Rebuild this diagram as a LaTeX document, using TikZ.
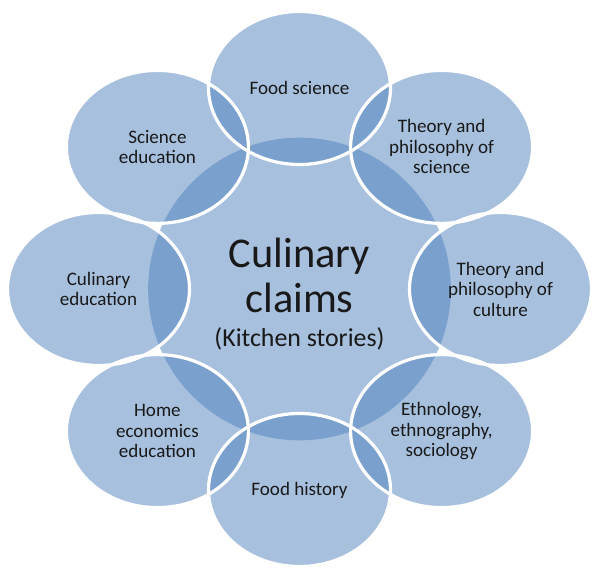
\documentclass[tikz,border=0pt]{standalone}
\usepackage{fontspec}
\setmainfont{Carlito}
\usetikzlibrary{shapes.geometric}
\definecolor{claimblue}{RGB}{79,129,189}
\definecolor{inkdark}{RGB}{25,25,25}
\tikzset{
    blob/.style={fill=claimblue, fill opacity=0.5, text opacity=1, text=inkdark, inner sep=0pt, align=center},
    topic/.style={blob, ellipse, minimum width=136.5pt, minimum height=114.75pt,
        font=\fontsize{14.3}{15.4}\selectfont},
    hub/.style={blob, circle, minimum size=227pt, font=\fontsize{31.8}{33.75}\selectfont},
    rim/.style={draw=white, line width=2.4pt},
}
\begin{document}
\begin{tikzpicture}[x=0.75pt, y=-0.75pt]
    \useasboundingbox (0,0) rectangle (597,573);
    \node [hub] (claims) at (299.5,289) {\rule{0pt}{30pt}Culinary\\claims\\[-8pt]{\fontsize{19.4}{22}\selectfont (Kitchen stories)}};

    \node [topic] (foodsci) at (299.5,88)    {Food science};
    \node [topic] (thsci)   at (441.6,146.9) {Theory and\\philosophy of\\science};
    \node [topic] (thcult)  at (500.5,289)   {Theory and\\philosophy of\\culture};
    \node [topic] (ethno)   at (441.6,431.1) {Ethnology,\\ethnography,\\sociology};
    \node [topic] (foodhis) at (299.5,490)   {Food history};
    \node [topic] (homeec)  at (157.4,431.1) {Home\\economics\\education};
    \node [topic] (culed)   at (98.5,289)    {Culinary\\education};
    \node [topic] (scied)   at (157.4,146.9) {Science\\education};

    % white rims on top of all fills
    \foreach \t in {foodsci,thsci,thcult,ethno,foodhis,homeec,culed,scied}
        \draw [rim] (\t.center) ellipse [x radius=68.25pt, y radius=57.375pt];
\end{tikzpicture}
\end{document}
